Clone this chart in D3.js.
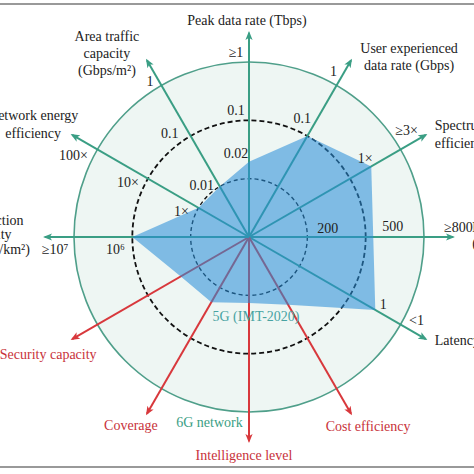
<!DOCTYPE html>
<html>
<head>
<meta charset="utf-8">
<script src="https://cdn.jsdelivr.net/npm/d3@7"></script>
<style>
  html, body { margin: 0; padding: 0; background: #fff; }
  svg { display: block; font-family: "Liberation Serif", "DejaVu Serif", serif; }
</style>
</head>
<body>
<svg id="chart" width="474" height="474"></svg>
<script>
// 12 axes, clockwise from the top (30 degrees apart)
const axisTitles = [
  ["Peak data rate (Tbps)"],
  ["User experienced", "data rate (Gbps)"],
  ["Spectrum", "efficiency"],
  ["Mobility", "(km/h)"],
  ["Latency (ms)"],
  ["Cost efficiency"],
  ["Intelligence level"],
  ["Coverage"],
  ["Security capacity"],
  ["Connection", "density", "(devices/km²)"],
  ["Network energy", "efficiency"],
  ["Area traffic", "capacity", "(Gbps/m²)"]
];
const axisGroup = ["5G", "5G", "5G", "5G", "5G", "6G", "6G", "6G", "6G", "5G", "5G", "5G"];

// 5G (IMT-2020) polygon, in ring units (ring 3 = 6G outer circle)
const values5G = [1.29, 2.0, 2.42, 2.13, 2.5, 1.34, 1.13, 1.29, 1.35, 2.0, 1.0, 1.0];

const ringLevels = [1, 2, 3];

// tick labels per axis: text and ring level
const tickText = [
  ["0.02", "0.1", "≥1"],
  ["0.1", "1"],
  ["1×", "≥3×"],
  ["200", "500", "≥800"],
  ["1", "<1"],
  [], [], [], [],
  ["10⁶", "≥10⁷"],
  ["1×", "10×", "100×"],
  ["0.01", "0.1", "1"]
];
const tickLevel = [
  [1.29, 2, 3],
  [2, 3],
  [2.42, 3],
  [1, 2.13, 3],
  [2.5, 3],
  [], [], [], [],
  [2, 3],
  [1, 2, 3],
  [1, 2, 3]
];

// ---- layout / style ----
const cx = 249, cy = 237, R = 175;
const green = "#3a9e84", red = "#d8383c";

const tickOffset = [
  [[-13, -8.5], [-13, -10], [-13, -9.5]],
  [[-5, -18], [-3, -14]],
  [[-6, -8], [6, -19.5]],
  [[10, -9], [9, -11], [20, -10]],
  [[8, -6], [16, -4.5]],
  [], [], [], [],
  [[-17, 12], [-19, 12]],
  [[-17, 3], [-20, 3], [-24, 5.5]],
  [[-18, -1.5], [-21, -3], [-11.5, -4]]
];
// title placement relative to arrow tip: dx, dy (first line center), anchor, line height
const titleLayout = [
  [-2, -13, "middle", 17],
  [58, -12, "middle", 17],
  [9, -10, "start", 18],
  [19, -10, "start", 16],
  [9, 1, "start", 17],
  [17, 12, "middle", 17],
  [-5, 14, "middle", 17],
  [-16, 11, "middle", 17],
  [-24, 15, "middle", 17],
  [-53.5, -17, "middle", 14.5],
  [-39, -20, "middle", 18],
  [-40, -24, "middle", 17]
];

const svg = d3.select("#chart");

const r = d3.scaleLinear().domain([0, 3]).range([0, R]);
const angle = d3.scaleLinear().domain([0, axisTitles.length]).range([0, 2 * Math.PI]);
const px = (i, v) => cx + r(v) * Math.sin(angle(i));
const py = (i, v) => cy - r(v) * Math.cos(angle(i));

// frame rules
svg.append("line").attr("x1", 0).attr("x2", 474).attr("y1", 4).attr("y2", 4)
  .attr("stroke", "#777").attr("stroke-width", 1.5);
svg.append("line").attr("x1", 0).attr("x2", 474).attr("y1", 467).attr("y2", 467)
  .attr("stroke", "#777").attr("stroke-width", 1.5);

// markers
const defs = svg.append("defs");
[["g", green], ["r", red]].forEach(([id, c]) => {
  defs.append("marker")
    .attr("id", "arrow-" + id)
    .attr("viewBox", "0 0 10 10")
    .attr("refX", 8).attr("refY", 5)
    .attr("markerWidth", 9).attr("markerHeight", 9)
    .attr("markerUnits", "userSpaceOnUse")
    .attr("orient", "auto")
    .append("path")
    .attr("d", "M0,1 L10,5 L0,9 L2.5,5 Z")
    .attr("fill", c);
});

const g = svg.append("g").attr("transform", `translate(${cx},${cy})`);

// outer 6G circle
g.append("circle").attr("r", r(3))
  .attr("fill", "#eef6f3").attr("stroke", "#4f9f8a").attr("stroke-width", 1.6);

// dashed rings
g.selectAll(".ring")
  .data(ringLevels.filter(d => d < 3))
  .enter().append("circle")
  .attr("class", "ring")
  .attr("r", d => r(d))
  .attr("fill", "none")
  .attr("stroke", "#111")
  .attr("stroke-width", d => d === 2 ? 1.8 : 1.4)
  .attr("stroke-dasharray", d => d === 2 ? "5,3" : "4,3");

// axes
g.selectAll(".axis")
  .data(axisTitles)
  .enter().append("line")
  .attr("class", "axis")
  .attr("x1", 0).attr("y1", 0)
  .attr("x2", (d, i) => r(3.5) * Math.sin(angle(i)))
  .attr("y2", (d, i) => -r(3.5) * Math.cos(angle(i)))
  .attr("stroke", (d, i) => axisGroup[i] === "5G" ? green : red)
  .attr("stroke-width", 2)
  .attr("marker-end", (d, i) => axisGroup[i] === "5G" ? "url(#arrow-g)" : "url(#arrow-r)");

// 5G polygon
const radial = d3.lineRadial()
  .angle((d, i) => angle(i))
  .radius(d => r(d))
  .curve(d3.curveLinearClosed);

g.append("path")
  .attr("d", radial(values5G))
  .attr("fill", "rgb(40,140,215)")
  .attr("fill-opacity", 0.56);

// tick labels
tickText.forEach((texts, i) => {
  texts.forEach((t, k) => {
    const off = tickOffset[i][k];
    svg.append("text")
      .attr("x", px(i, tickLevel[i][k]) + off[0])
      .attr("y", py(i, tickLevel[i][k]) + off[1])
      .attr("dy", "0.35em")
      .attr("text-anchor", i === 3 ? "start" : "middle")
      .attr("font-size", 14)
      .attr("fill", "#222")
      .text(t);
  });
});

// axis titles
axisTitles.forEach((lines, i) => {
  const [dx, dy, anchor, lh] = titleLayout[i];
  const tx = px(i, 3.5) + dx, ty = py(i, 3.5) + dy;
  const t = svg.append("text")
    .attr("text-anchor", anchor)
    .attr("font-size", 14)
    .attr("fill", axisGroup[i] === "5G" ? "#222" : "#c8323a");
  lines.forEach((line, k) => {
    t.append("tspan")
      .attr("x", tx)
      .attr("y", ty + k * lh)
      .attr("dy", "0.35em")
      .text(line);
  });
});

// series labels
svg.append("text")
  .attr("x", cx + 7).attr("y", cy + r(1.35))
  .attr("dy", "0.35em")
  .attr("text-anchor", "middle")
  .attr("font-size", 14)
  .attr("fill", "#48a3a2")
  .text("5G (IMT-2020)");

svg.append("text")
  .attr("x", cx - 39.5).attr("y", cy + r(3.18))
  .attr("dy", "0.35em")
  .attr("text-anchor", "middle")
  .attr("font-size", 14)
  .attr("fill", "#3a9e84")
  .text("6G network");
</script>
</body>
</html>
